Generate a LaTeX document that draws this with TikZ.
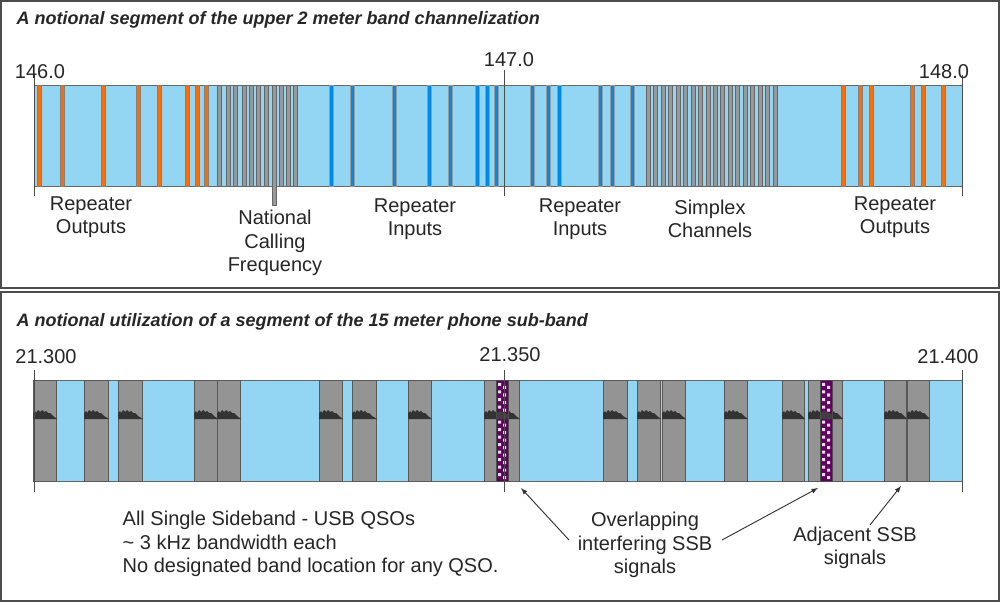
\documentclass[tikz,border=0pt]{standalone}
\usepackage{fontspec}
\setmainfont{Liberation Sans}
\begin{document}
\begin{tikzpicture}[x=0.75pt,y=-0.75pt,
  panel/.style={draw=black!70,line width=0.8pt},
  band/.style={fill=cyan!45!white!95!blue,draw=black!60,line width=0.5pt},
  orng/.style={fill=orange!85!red,draw=black!50,line width=0.3pt},
  blu/.style={fill=blue!40!cyan!90!black,draw=black!40,line width=0.3pt},
  gry/.style={fill=black!40,draw=black!60,line width=0.4pt},
  ssb/.style={fill=black!42,draw=black!65,line width=0.5pt},
  tick/.style={draw=black!70,line width=0.7pt},
  lbl/.style={font=\fontsize{15}{17.5}\selectfont,align=center,text=black!85},
  ttl/.style={font=\fontsize{13.5}{16}\selectfont\bfseries\itshape,anchor=west,text=black!85},
  arr/.style={draw=black!80,line width=0.7pt,-latex}]
\definecolor{bandc}{RGB}{146,214,244}
\useasboundingbox (0,0) rectangle (1000,602);
\draw[panel] (1,1) rectangle (999,288);
\draw[panel] (1,292) rectangle (999,601);
\node[ttl] (t1) at (12,20) {A notional segment of the upper 2 meter band channelization};
\node[ttl] (t2) at (12,322) {A notional utilization of a segment of the 15 meter phone sub-band};
% top band
\fill[bandc] (34,85) rectangle (962,186);
\draw[black!60,line width=0.5pt] (34,85) -- (962,85) (34,186) -- (962,186);
\foreach \x in {39,62,103,138,159,187,197,206,843,860,871,912,923,943}
  \draw[orng] (\x-2,85) rectangle (\x+2,186);
\foreach \x in {331,352,394,429,450,477,487,496,532,548,559,600,612,632}
  \draw[blu] (\x-2,85) rectangle (\x+2,186);
\foreach \x in {219,228,235,244,251,258,266,281,288,295}
  \draw[gry] (\x-2,85) rectangle (\x+2,186);
\draw[gry] (272,85) rectangle (276,205);
\foreach \i in {0,...,17}
  \draw[gry] ({648+\i*127/17-2},85) rectangle ({648+\i*127/17+2},186);
\draw[tick] (34,75) -- (34,196);
\draw[tick] (504,70) -- (504,196);
\draw[tick] (962,75) -- (962,196);
\node[lbl] (a1) at (40,72) {146.0};
\node[lbl] (a2) at (509,60) {147.0};
\node[lbl] (a3) at (944,72) {148.0};
\node[lbl] (l1) at (91,217) {Repeater\\Outputs};
\node[lbl] (l2) at (275,243) {National\\Calling\\Frequency};
\node[lbl] (l3) at (415,219) {Repeater\\Inputs};
\node[lbl] (l4) at (580,219) {Repeater\\Inputs};
\node[lbl] (l5) at (710,219) {Simplex\\Channels};
\node[lbl] (l6) at (895,217) {Repeater\\Outputs};
% bottom band
\fill[bandc] (34,380) rectangle (962,481);
\draw[black!60,line width=0.5pt] (34,380) -- (962,380) (34,481) -- (962,481);
\foreach \a/\b in {33/56,84/108,118/142,194/217,217/240,319/342,352/376,408/431,484/508,496/519,603/627,637/660,662/685,724/747,782/804,808/832,820/842,884/906,907/929}{
  \draw[ssb] (\a,380) rectangle (\b,481);
  \fill[black!80] (\a,419) -- (\a,413) -- (\a+2,411) -- (\a+3,413) -- (\a+5,410) -- (\a+7,412) -- (\a+9,410) -- (\a+11,412) -- (\a+13,411) -- (\a+15,413) -- (\a+17,413) -- (\a+20,416) -- (\b+1,419) -- cycle;
}
\foreach \a in {496,820}{
  \fill[violet!75!black] (\a,380) rectangle (\a+12,481);
  \foreach \j in {0,...,12}
    \fill[white!85!violet] (\a+2,{383+\j*7.5}) rectangle (\a+5,{386+\j*7.5}) (\a+7,{386+\j*7.5}) rectangle (\a+10,{389+\j*7.5});
  \fill[black!75] (\a,419) -- (\a,413) -- (\a+4,411) -- (\a+8,413) -- (\a+12,414) -- (\a+12,419) -- cycle;
  \draw[black!70,line width=0.5pt] (\a,380) rectangle (\a+12,481);
}
\draw[tick] (34,370) -- (34,492);
\draw[tick] (504,370) -- (504,492);
\draw[tick] (962,370) -- (962,492);
\node[lbl] (b1) at (46,357) {21.300};
\node[lbl] (b2) at (510,355) {21.350};
\node[lbl] (b3) at (948,357) {21.400};
\node[lbl,align=left,anchor=west] (n1) at (118,544) {All Single Sideband - USB QSOs\\\textasciitilde{} 3 kHz bandwidth each\\No designated band location for any QSO.};
\node[lbl] (n2) at (645,545) {Overlapping\\interfering SSB\\signals};
\node[lbl] (n3) at (855,548) {Adjacent SSB\\signals};
\coordinate (p1) at (521,488);
\coordinate (p2) at (818,488);
\coordinate (p3) at (901,486);
\draw[arr] (569,540) -- (p1);
\draw[arr] (722,540) -- (p2);
\draw[arr] (870,525) -- (p3);
\end{tikzpicture}
\end{document}
